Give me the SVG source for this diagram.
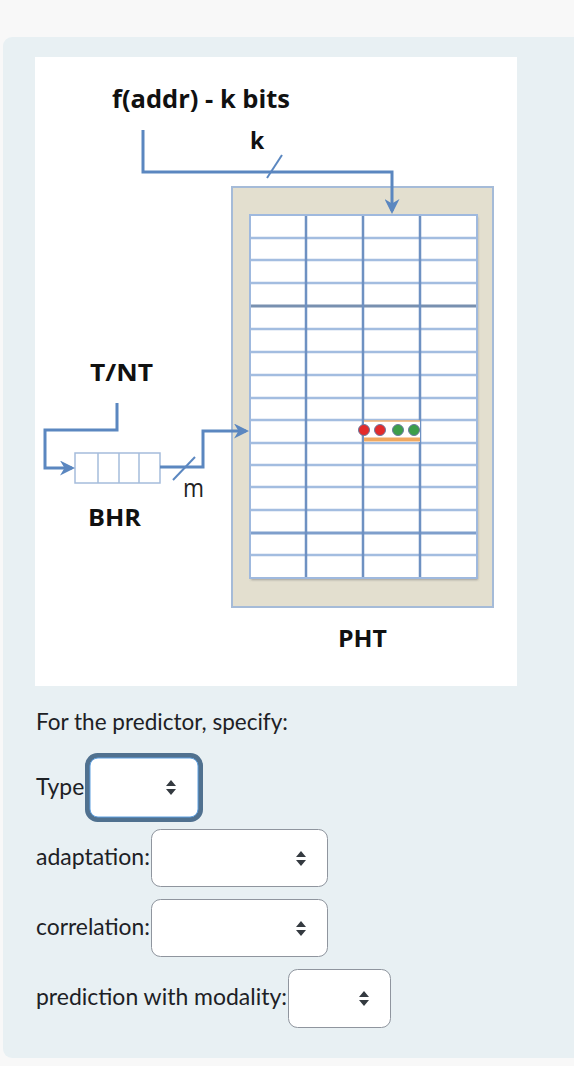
<svg xmlns="http://www.w3.org/2000/svg" width="574" height="1066" viewBox="0 0 574 1066">
<defs>
<style>
.lbl{font-family:"Open Sans","Liberation Sans",sans-serif;font-weight:bold;fill:#111;}
.frm{font-family:Lato,"Noto Sans","Liberation Sans",sans-serif;font-size:24px;fill:#1d2125;}
.conn{fill:none;stroke:#5b87c0;stroke-width:3;stroke-linejoin:miter;}
.row{stroke:#a3bde0;stroke-width:2.5;}
.col{stroke:#6e91c2;stroke-width:2.5;}
.thick{stroke:#7890b0;stroke-width:3;}
.sel{fill:#fff;stroke:#8f959e;stroke-width:1;}
.ico{fill:#343a40;}
</style>
<marker id="ah" viewBox="0 0 10 10" refX="8" refY="5" markerWidth="5" markerHeight="5" orient="auto">
<path d="M0,0 L10,5 L0,10 L3,5 Z" fill="#5b87c0"/>
</marker>
<filter id="sh" x="-5%" y="-5%" width="110%" height="110%">
<feDropShadow dx="1" dy="2" stdDeviation="1" flood-color="#666" flood-opacity="0.5"/>
</filter>
</defs>
<rect x="0" y="0" width="574" height="1066" fill="#f8f8f8"/>
<rect x="3" y="37" width="590" height="1021" rx="9" fill="#e8f0f3"/>
<rect x="35" y="57" width="482" height="629" fill="#ffffff"/>

<g id="pht">
<rect x="232" y="187" width="261" height="420" fill="#e3dfcf" stroke="#a5bbd8" stroke-width="2"/>
<rect x="250" y="215" width="227" height="363" fill="#ffffff" filter="url(#sh)"/>
<g>
<line class="row" x1="250" y1="238" x2="477" y2="238"/>
<line class="row" x1="250" y1="260" x2="477" y2="260"/>
<line class="row" x1="250" y1="283" x2="477" y2="283"/>
<line class="thick" x1="250" y1="306" x2="477" y2="306"/>
<line class="row" x1="250" y1="329" x2="477" y2="329"/>
<line class="row" x1="250" y1="352" x2="477" y2="352"/>
<line class="row" x1="250" y1="375" x2="477" y2="375"/>
<line class="row" x1="250" y1="398" x2="477" y2="398"/>
<line class="row" x1="250" y1="420" x2="477" y2="420"/>
<line class="row" x1="250" y1="443" x2="477" y2="443"/>
<line class="row" x1="250" y1="465" x2="477" y2="465"/>
<line class="row" x1="250" y1="487" x2="477" y2="487"/>
<line class="row" x1="250" y1="510" x2="477" y2="510"/>
<line class="row" x1="250" y1="533" x2="477" y2="533" style="stroke:#7f9fcc;stroke-width:3"/>
<line class="row" x1="250" y1="555" x2="477" y2="555"/>
<line class="col" x1="306" y1="215" x2="306" y2="578"/>
<line class="col" x1="363" y1="215" x2="363" y2="578"/>
<line class="col" x1="420" y1="215" x2="420" y2="578"/>
<rect x="250" y="215" width="227" height="363" fill="none" stroke="#9fb9de" stroke-width="2"/>
</g>
<g id="counter">
<rect x="364" y="421" width="56" height="21" fill="#ffffff"/>
<line x1="364" y1="421" x2="420" y2="421" stroke="#f0b070" stroke-width="1.5"/>
<line x1="364" y1="439.5" x2="420" y2="439.5" stroke="#f0a860" stroke-width="4"/>
<circle cx="364" cy="430" r="5.5" fill="#e32b2b" stroke="#6b7aa0" stroke-width="1"/>
<circle cx="380" cy="430" r="5.5" fill="#e32b2b" stroke="#6b7aa0" stroke-width="1"/>
<circle cx="398" cy="430" r="5.5" fill="#3d9e4a" stroke="#6b7aa0" stroke-width="1"/>
<circle cx="414" cy="430" r="5.5" fill="#3d9e4a" stroke="#6b7aa0" stroke-width="1"/>
</g>
<rect x="343" y="176" width="35" height="9" fill="#ffffff"/>
<text class="lbl" x="338" y="647" font-size="24" textLength="49" lengthAdjust="spacingAndGlyphs">PHT</text>
</g>

<g id="bhr">
<rect x="75" y="453" width="85" height="30" fill="#ffffff" stroke="#a5bcdb" stroke-width="1.5"/>
<line x1="98" y1="453" x2="98" y2="483" stroke="#a5bcdb" stroke-width="1.5"/>
<line x1="119" y1="453" x2="119" y2="483" stroke="#a5bcdb" stroke-width="1.5"/>
<line x1="139" y1="453" x2="139" y2="483" stroke="#a5bcdb" stroke-width="1.5"/>
<text class="lbl" x="88" y="526" font-size="24" textLength="53" lengthAdjust="spacingAndGlyphs">BHR</text>
</g>

<g id="labels">
<text class="lbl" x="112" y="108" font-size="25" textLength="178" lengthAdjust="spacingAndGlyphs">f(addr) - k bits</text>
<text class="lbl" x="250" y="149" font-size="23">k</text>
<text class="lbl" x="90" y="381" font-size="24" textLength="63" lengthAdjust="spacingAndGlyphs">T/NT</text>
<text x="183" y="497" font-family="Open Sans, Liberation Sans, sans-serif" font-size="25" fill="#222" textLength="21" lengthAdjust="spacingAndGlyphs">m</text>
</g>

<g id="connectors">
<path class="conn" d="M143,130 V172 H392 V211" marker-end="url(#ah)"/>
<line x1="267" y1="178" x2="282" y2="155" stroke="#5b87c0" stroke-width="2"/>
<path class="conn" d="M117,403 V430 H45 V468 H72" marker-end="url(#ah)"/>
<path class="conn" d="M160,467 H203 V431 H246" marker-end="url(#ah)"/>
<line x1="173" y1="480" x2="195" y2="457" stroke="#5b87c0" stroke-width="2"/>
</g>

<g id="form">
<text class="frm" x="36" y="730" textLength="252" lengthAdjust="spacingAndGlyphs">For the predictor, specify:</text>
<text class="frm" x="36" y="795" textLength="54" lengthAdjust="spacingAndGlyphs">Type:</text>
<g id="sel-type">
<rect x="87.5" y="755.5" width="113" height="64" rx="10" fill="#fff" stroke="#50718f" stroke-width="5"/>
<rect x="90" y="758" width="108" height="59" rx="8" fill="none" stroke="#5fa0e0" stroke-width="1"/>
<path class="ico" d="M166,786 L171,780 L176,786 Z M166,789 L176,789 L171,795 Z"/>
</g>
<text class="frm" x="36" y="865" textLength="114" lengthAdjust="spacingAndGlyphs">adaptation:</text>
<g id="sel-adapt">
<rect class="sel" x="151.5" y="829.5" width="176" height="57" rx="9"/>
<path class="ico" d="M296,857 L301,851 L306,857 Z M296,860 L306,860 L301,866 Z"/>
</g>
<text class="frm" x="36" y="935" textLength="114" lengthAdjust="spacingAndGlyphs">correlation:</text>
<g id="sel-corr">
<rect class="sel" x="151.5" y="899.5" width="176" height="57" rx="9"/>
<path class="ico" d="M296,927 L301,921 L306,927 Z M296,930 L306,930 L301,936 Z"/>
</g>
<text class="frm" x="36" y="1005" textLength="251" lengthAdjust="spacingAndGlyphs">prediction with modality:</text>
<g id="sel-mod">
<rect class="sel" x="288.5" y="969.5" width="102" height="58" rx="9"/>
<path class="ico" d="M359,997 L364,991 L369,997 Z M359,1000 L369,1000 L364,1006 Z"/>
</g>
</g>
</svg>
